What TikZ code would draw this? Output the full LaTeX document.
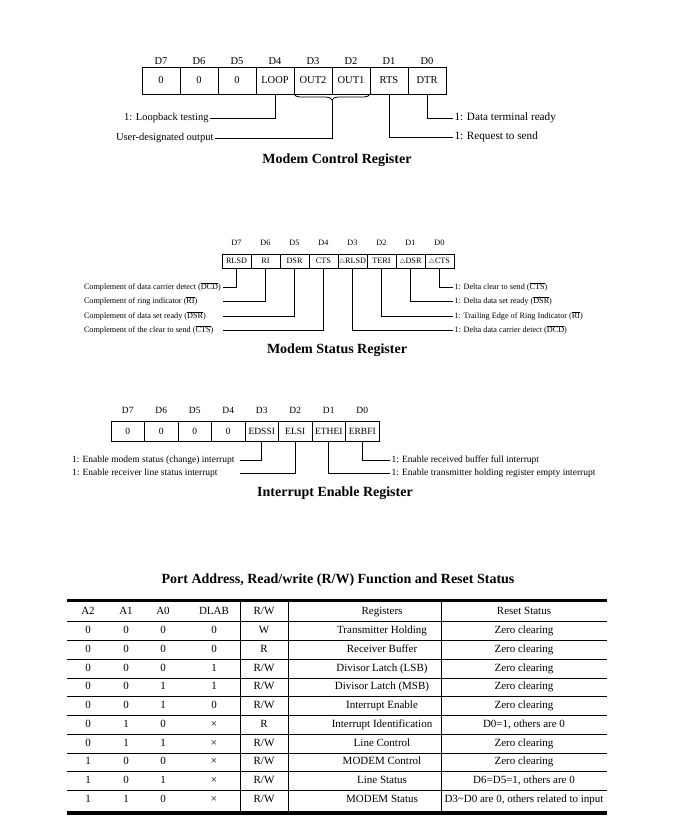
\documentclass[tikz,border=0pt]{standalone}
\usepackage{fontspec}
\usepackage{graphicx}
\setmainfont{Liberation Serif}
\usetikzlibrary{decorations.pathreplacing}
\newcommand\ovl[1]{$\overline{\mbox{#1}}$}
\newcommand\tri{\scalebox{0.8}{$\triangle$}}
\newcommand\rw{R/W}
\begin{document}
\begin{tikzpicture}[x=1pt,y=-1pt,
  every node/.style={inner sep=0pt,outer sep=0pt},
  conn/.style={line width=0.8pt},
  mcf/.style={font=\fontsize{10.5}{12}\selectfont},
  mcr/.style={font=\fontsize{11.2}{13}\selectfont},
  msf/.style={font=\fontsize{8.2}{10}\selectfont},
  ief/.style={font=\fontsize{9.5}{11}\selectfont},
  tbf/.style={font=\fontsize{11}{13}\selectfont,text height=7pt,text depth=2pt},
  ttl/.style={font=\bfseries\fontsize{14}{16}\selectfont},
  mccell/.style={draw,line width=0.8pt,minimum width=38pt,minimum height=27pt,mcf},
  mscell/.style={draw,line width=0.8pt,minimum width=29pt,minimum height=14pt,msf},
  iecell/.style={draw,line width=0.8pt,minimum width=33.5pt,minimum height=20pt,ief},
  lbl/.style={inner sep=1.5pt},
]
\fill[white] (0,0) rectangle (676,834);
\useasboundingbox (0,0) rectangle (676,834);

% ---------------- Modem Control Register
\node[mccell] (mc7) at (161,80.5) {0};
\node[mccell] (mc6) at (199,80.5) {0};
\node[mccell] (mc5) at (237,80.5) {0};
\node[mccell] (mc4) at (275,80.5) {LOOP};
\node[mccell] (mc3) at (313,80.5) {OUT2};
\node[mccell] (mc2) at (351,80.5) {OUT1};
\node[mccell] (mc1) at (389,80.5) {RTS};
\node[mccell] (mc0) at (427,80.5) {DTR};
\node[mcf] (mcd7) at (161,61) {D7};
\node[mcf] (mcd6) at (199,61) {D6};
\node[mcf] (mcd5) at (237,61) {D5};
\node[mcf] (mcd4) at (275,61) {D4};
\node[mcf] (mcd3) at (313,61) {D3};
\node[mcf] (mcd2) at (351,61) {D2};
\node[mcf] (mcd1) at (389,61) {D1};
\node[mcf] (mcd0) at (427,61) {D0};

\node[mcf,lbl,anchor=east] (mcl4) at (210,118) {1: Loopback testing};
\draw[conn] (mc4.south) |- (mcl4.east);
\node[mcf,lbl,anchor=east] (mcl32) at (215,138) {User-designated output};
\draw[conn,decorate,decoration={brace,mirror,amplitude=6pt}] (mc3.south west) -- (mc2.south east);
\coordinate (mcb) at (332,100);
\draw[conn] (mcb) |- (mcl32.east);
\node[mcr,lbl,anchor=west] (mcl1) at (453,137) {1: Request to send};
\draw[conn] (mc1.south) |- (mcl1.west);
\node[mcr,lbl,anchor=west] (mcl0) at (453,118) {1: Data terminal ready};
\draw[conn] (mc0.south) |- (mcl0.west);
\node[ttl] (mct) at (337,160) {Modem Control Register};

% ---------------- Modem Status Register
\node[mscell] (ms7) at (236.5,261) {RLSD};
\node[mscell] (ms6) at (265.5,261) {RI};
\node[mscell] (ms5) at (294.5,261) {DSR};
\node[mscell] (ms4) at (323.5,261) {CTS};
\node[mscell] (ms3) at (352.5,261) {\tri RLSD};
\node[mscell] (ms2) at (381.5,261) {TERI};
\node[mscell] (ms1) at (410.5,261) {\tri DSR};
\node[mscell] (ms0) at (439.5,261) {\tri CTS};
\node[msf] (msd7) at (236.5,243) {D7};
\node[msf] (msd6) at (265.5,243) {D6};
\node[msf] (msd5) at (294.5,243) {D5};
\node[msf] (msd4) at (323.5,243) {D4};
\node[msf] (msd3) at (352.5,243) {D3};
\node[msf] (msd2) at (381.5,243) {D2};
\node[msf] (msd1) at (410.5,243) {D1};
\node[msf] (msd0) at (439.5,243) {D0};

\node[msf,anchor=west] (msl7) at (84,287) {Complement of data carrier detect (\ovl{DCD})};
\node[msf,anchor=west] (msl6) at (84,301) {Complement of ring indicator (\ovl{RI})};
\node[msf,anchor=west] (msl5) at (84,316) {Complement of data set ready (\ovl{DSR})};
\node[msf,anchor=west] (msl4) at (84,330) {Complement of the clear to send (\ovl{CTS})};
\coordinate (msc7) at (223,287);
\coordinate (msc6) at (223,301);
\coordinate (msc5) at (223,316);
\coordinate (msc4) at (223,330);
\draw[conn] (ms7.south) |- (msc7);
\draw[conn] (ms6.south) |- (msc6);
\draw[conn] (ms5.south) |- (msc5);
\draw[conn] (ms4.south) |- (msc4);
\node[msf,lbl,anchor=west] (msl3) at (453,330) {1: Delta data carrier detect (\ovl{DCD})};
\node[msf,lbl,anchor=west] (msl2) at (453,316) {1: Trailing Edge of Ring Indicator (\ovl{RI})};
\node[msf,lbl,anchor=west] (msl1) at (453,301) {1: Delta data set ready (\ovl{DSR})};
\node[msf,lbl,anchor=west] (msl0) at (453,287) {1: Delta clear to send (\ovl{CTS})};
\draw[conn] (ms3.south) |- (msl3.west);
\draw[conn] (ms2.south) |- (msl2.west);
\draw[conn] (ms1.south) |- (msl1.west);
\draw[conn] (ms0.south) |- (msl0.west);
\node[ttl] (mst) at (337,350) {Modem Status Register};

% ---------------- Interrupt Enable Register
\node[iecell] (ie7) at (127.75,431) {0};
\node[iecell] (ie6) at (161.25,431) {0};
\node[iecell] (ie5) at (194.75,431) {0};
\node[iecell] (ie4) at (228.25,431) {0};
\node[iecell] (ie3) at (261.75,431) {EDSSI};
\node[iecell] (ie2) at (295.25,431) {ELSI};
\node[iecell] (ie1) at (328.75,431) {ETHEI};
\node[iecell] (ie0) at (362.25,431) {ERBFI};
\node[ief] (ied7) at (127.75,410) {D7};
\node[ief] (ied6) at (161.25,410) {D6};
\node[ief] (ied5) at (194.75,410) {D5};
\node[ief] (ied4) at (228.25,410) {D4};
\node[ief] (ied3) at (261.75,410) {D3};
\node[ief] (ied2) at (295.25,410) {D2};
\node[ief] (ied1) at (328.75,410) {D1};
\node[ief] (ied0) at (362.25,410) {D0};

\node[ief,anchor=west] (iel3) at (72,460) {1: Enable modem status (change) interrupt};
\node[ief,anchor=west] (iel2) at (72,473) {1: Enable receiver line status interrupt};
\coordinate (iec3) at (240,460);
\coordinate (iec2) at (240,473);
\draw[conn] (ie3.south) |- (iec3);
\draw[conn] (ie2.south) |- (iec2);
\node[ief,lbl,anchor=west] (iel0) at (390,460) {1: Enable received buffer full interrupt};
\node[ief,lbl,anchor=west] (iel1) at (390,473) {1: Enable transmitter holding register empty interrupt};
\draw[conn] (ie0.south) |- (iel0.west);
\draw[conn] (ie1.south) |- (iel1.west);
\node[ttl] (iet) at (335,493) {Interrupt Enable Register};

% ---------------- Table
\node[ttl] (tbt) at (338,580) {Port Address, Read/write (R/W) Function and Reset Status};
\draw[line width=3pt] (67,600) -- (607,600);
\draw[line width=4pt] (67,813) -- (607,813);
\foreach \k in {0,...,9} {
  \pgfmathsetmacro\yy{621.6+18.78*\k}
  \draw[line width=0.8pt] (67,\yy) -- (607,\yy);
}
\foreach \xx in {240,288,441} {
  \draw[line width=0.8pt] (\xx,601.5) -- (\xx,811);
}
\node[tbf] (h1) at (88,612) {A2};
\node[tbf] (h2) at (126,612) {A1};
\node[tbf] (h3) at (163,612) {A0};
\node[tbf] (h4) at (214,612) {DLAB};
\node[tbf] (h5) at (264,612) {R/W};
\node[tbf] (h6) at (382,612) {Registers};
\node[tbf] (h7) at (524,612) {Reset Status};
\foreach \i/\a/\b/\c/\d/\e/\f/\g in {
  1/0/0/0/0/W/Transmitter Holding/Zero clearing,
  2/0/0/0/0/R/Receiver Buffer/Zero clearing,
  3/0/0/0/1/\rw/Divisor Latch (LSB)/Zero clearing,
  4/0/0/1/1/\rw/Divisor Latch (MSB)/Zero clearing,
  5/0/0/1/0/\rw/Interrupt Enable/Zero clearing,
  6/0/1/0/×/R/Interrupt Identification/{D0=1, others are 0},
  7/0/1/1/×/\rw/Line Control/Zero clearing,
  8/1/0/0/×/\rw/MODEM Control/Zero clearing,
  9/1/0/1/×/\rw/Line Status/{D6=D5=1, others are 0},
  10/1/1/0/×/\rw/MODEM Status/{D3\textasciitilde D0 are 0, others related to input}} {
  \pgfmathsetmacro\yy{631+18.78*(\i-1)}
  \node[tbf] (r\i a) at (88,\yy) {\a};
  \node[tbf] (r\i b) at (126,\yy) {\b};
  \node[tbf] (r\i c) at (163,\yy) {\c};
  \node[tbf] (r\i d) at (214,\yy) {\d};
  \node[tbf] (r\i e) at (264,\yy) {\e};
  \node[tbf] (r\i f) at (382,\yy) {\f};
  \node[tbf] (r\i g) at (524,\yy) {\g};
}
\end{tikzpicture}
\end{document}
